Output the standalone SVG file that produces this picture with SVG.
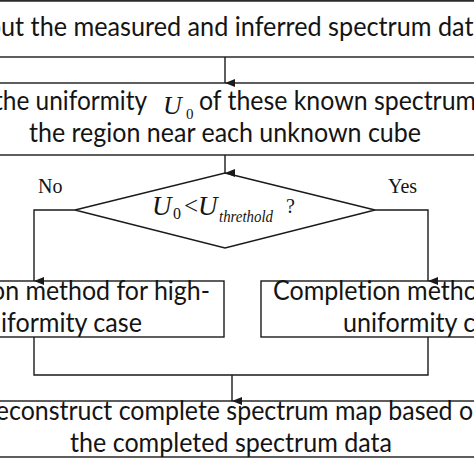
<svg xmlns="http://www.w3.org/2000/svg" width="474" height="474" viewBox="0 0 474 474">
<defs>
<style>
.box{fill:#fff;stroke:#1a1a1a;stroke-width:1.4}
.ln{fill:none;stroke:#1a1a1a;stroke-width:1.4}
.t{font-family:Lato,"Liberation Sans",sans-serif;font-size:27px;fill:#141414;font-variant-ligatures:none;font-feature-settings:"liga" 0,"dlig" 0}
.m{font-family:"Liberation Serif","Times New Roman",serif;fill:#141414}
.i{font-style:italic}
</style>
<marker id="ah" markerWidth="8" markerHeight="10" refX="4" refY="10" orient="auto-start-reverse" markerUnits="userSpaceOnUse" viewBox="0 0 8 10">
<path d="M0,0 L8,0 L4,10 Z" fill="#1a1a1a"/>
</marker>
</defs>
<rect width="474" height="474" fill="#fff"/>
<line x1="0" y1="1" x2="474" y2="1" stroke="#555" stroke-width="2.6"/>
<g id="input">
<rect class="box" x="-10" y="1" width="494" height="56"/>
<text class="t" x="-34" y="36" textLength="520" lengthAdjust="spacingAndGlyphs">Input the measured and inferred spectrum data</text>
</g>
<g id="uniformity">
<rect class="box" x="-10" y="83" width="494" height="72"/>
<text class="t" x="-6" y="110" textLength="153" lengthAdjust="spacingAndGlyphs">the uniformity</text>
<text class="m i" x="163" y="114" font-size="26">U</text>
<text class="m" x="186" y="119" font-size="15">0</text>
<text class="t" x="199" y="110" textLength="277" lengthAdjust="spacingAndGlyphs">of these known spectrum</text>
<text class="t" x="29" y="142" textLength="392" lengthAdjust="spacingAndGlyphs">the region near each unknown cube</text>
</g>
<g id="decision">
<polygon class="ln" points="225,173 375,210 225,248 75,210"/>
<text class="m i" x="152" y="215" font-size="27">U</text>
<text class="m" x="173" y="219" font-size="16">0</text>
<text class="m" x="184" y="214" font-size="25">&lt;</text>
<text class="m i" x="198" y="215" font-size="27">U</text>
<text class="m i" x="219" y="222" font-size="16" textLength="54" lengthAdjust="spacingAndGlyphs">threthold</text>
<text class="m" x="286" y="213" font-size="20">?</text>
</g>
<g id="high">
<rect class="box" x="-120" y="281" width="344" height="56"/>
<text class="t" x="-108" y="300" textLength="318" lengthAdjust="spacingAndGlyphs">Completion method for high-</text>
<text class="t" x="-27" y="332" textLength="169" lengthAdjust="spacingAndGlyphs">uniformity case</text>
</g>
<g id="low">
<rect class="box" x="261" y="281" width="330" height="56"/>
<text class="t" x="273" y="300" textLength="219" lengthAdjust="spacingAndGlyphs">Completion method</text>
<text class="t" x="343" y="332" textLength="169" lengthAdjust="spacingAndGlyphs">uniformity case</text>
</g>
<g id="reconstruct">
<rect class="box" x="-10" y="401" width="494" height="56"/>
<text class="t" x="-19" y="420" textLength="506" lengthAdjust="spacingAndGlyphs">Reconstruct complete spectrum map based on</text>
<text class="t" x="70" y="452" textLength="322" lengthAdjust="spacingAndGlyphs">the completed spectrum data</text>
</g>
<g id="connectors">
<line class="ln" x1="225" y1="57" x2="225" y2="83" marker-end="url(#ah)"/>
<line class="ln" x1="225" y1="155" x2="225" y2="173" marker-end="url(#ah)"/>
<polyline class="ln" points="75,210 34,210 34,281" marker-end="url(#ah)"/>
<polyline class="ln" points="375,210 428,210 428,281" marker-end="url(#ah)"/>
<polyline class="ln" points="34,337 34,375 428,375 428,337"/>
<line class="ln" x1="232" y1="375" x2="232" y2="401" marker-end="url(#ah)"/>
<text class="m" x="38" y="193" font-size="20">No</text>
<text class="m" x="388" y="193" font-size="20">Yes</text>
</g>
</svg>
